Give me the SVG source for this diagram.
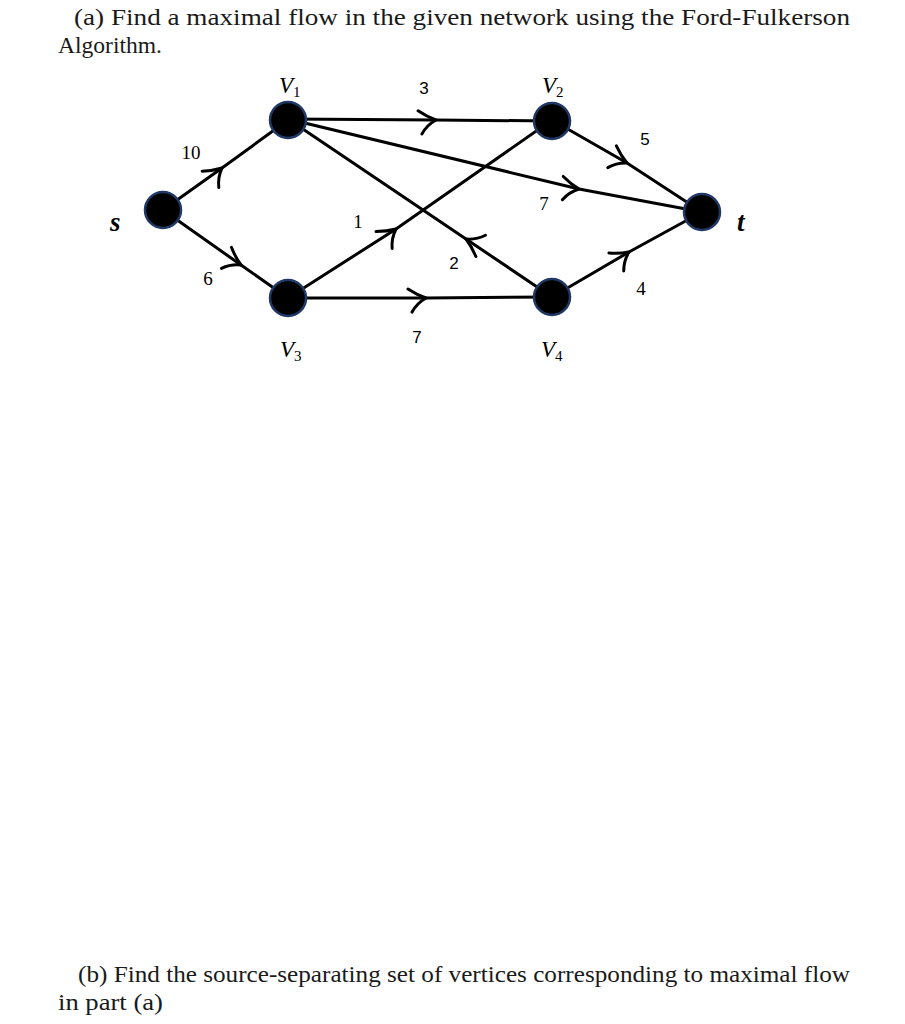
<svg xmlns="http://www.w3.org/2000/svg" width="905" height="1024" viewBox="0 0 905 1024">
<style>
.body{font-family:"Liberation Serif",serif;font-size:23px;fill:#1a1a1a}
.edge{stroke:#000;stroke-width:3;fill:none;marker-mid:url(#chev)}
.node{fill:#000;stroke:#1f3864;stroke-width:2.5}
.vl{font-family:"Liberation Serif",serif;font-style:italic;font-size:23px;fill:#000}
.sub{font-size:15px;font-style:normal}
.st{font-family:"Liberation Serif",serif;font-style:italic;font-weight:bold;font-size:27px;fill:#000}
.ns{font-family:"Liberation Sans",sans-serif;font-size:17px;fill:#000;text-anchor:middle}
.nr{font-family:"Liberation Serif",serif;font-size:19px;fill:#000;text-anchor:middle}
</style>
<defs>
<marker id="chev" markerUnits="userSpaceOnUse" markerWidth="40" markerHeight="40" viewBox="-20 -20 40 40" refX="0" refY="0" orient="auto">
<path d="M-18,-9 Q-9,-3 0,0 Q-9,5 -14,14" fill="none" stroke="#000" stroke-width="3" stroke-linecap="round"/>
</marker>
</defs>
<rect width="905" height="1024" fill="#fff"/>
<text class="body" x="74" y="25" textLength="776" lengthAdjust="spacingAndGlyphs">(a) Find a maximal flow in the given network using the Ford-Fulkerson</text>
<text class="body" x="58" y="53" textLength="104" lengthAdjust="spacingAndGlyphs">Algorithm.</text>
<text class="body" x="78" y="982" textLength="772" lengthAdjust="spacingAndGlyphs">(b) Find the source-separating set of vertices corresponding to maximal flow</text>
<text class="body" x="58" y="1010" textLength="105" lengthAdjust="spacingAndGlyphs">in part (a)</text>
<g id="connectors">
<path class="edge" d="M163,210 L222,168 L288,120"/>
<path class="edge" d="M163,210 L241,265 L288,298"/>
<path class="edge" d="M288,119 L436,120 L552,121"/>
<path class="edge" d="M288,298 L426,298 L552,297"/>
<path class="edge" d="M288,298 L396,229 L552,120"/>
<path class="edge" d="M552,297 L466,239 L288,119"/>
<path class="edge" d="M288,119 L579,189 L702,212"/>
<path class="edge" d="M552,120 L627,163 L702,212"/>
<path class="edge" d="M552,297 L629,252 L702,212"/>
</g>
<g id="node-s"><circle class="node" cx="163" cy="210" r="18"/><text class="st" x="110" y="231">s</text></g>
<g id="node-v1"><circle class="node" cx="288" cy="120" r="18"/><text class="vl" x="279" y="93">V<tspan class="sub" dy="4">1</tspan></text></g>
<g id="node-v2"><circle class="node" cx="552" cy="121" r="18"/><text class="vl" x="542" y="93">V<tspan class="sub" dy="4">2</tspan></text></g>
<g id="node-v3"><circle class="node" cx="288" cy="298" r="18"/><text class="vl" x="280" y="357">V<tspan class="sub" dy="4">3</tspan></text></g>
<g id="node-v4"><circle class="node" cx="552" cy="297" r="18"/><text class="vl" x="541" y="357">V<tspan class="sub" dy="4">4</tspan></text></g>
<g id="node-t"><circle class="node" cx="702" cy="212" r="18"/><text class="st" x="737" y="231">t</text></g>
<g id="labels">
<text class="nr" x="191" y="159">10</text>
<text class="nr" x="208" y="285">6</text>
<text class="ns" x="424" y="94">3</text>
<text class="ns" x="417" y="343">7</text>
<text class="nr" x="358" y="228">1</text>
<text class="ns" x="454" y="269">2</text>
<text class="nr" x="544" y="210">7</text>
<text class="ns" x="645" y="145">5</text>
<text class="nr" x="641" y="295">4</text>
</g>
</svg>
